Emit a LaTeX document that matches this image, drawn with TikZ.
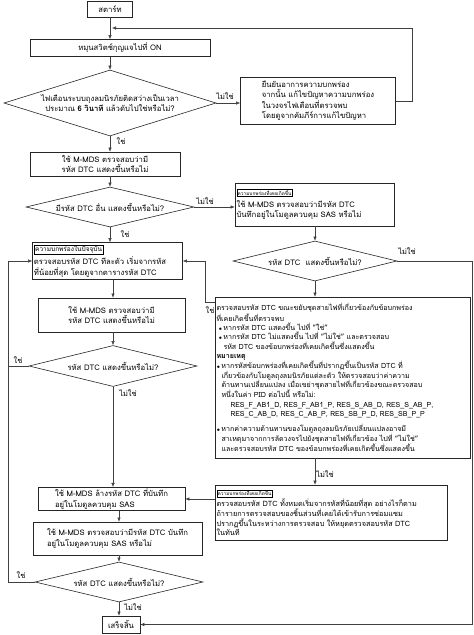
\documentclass[tikz,border=0pt]{standalone}
\usepackage{fontspec}
\setmainfont[Script=Thai]{Loma}
\usetikzlibrary{shapes.geometric,arrows.meta,shadows}
\newcommand{\hdr}[2]{{\fontsize{#1}{#1}\selectfont\setlength{\fboxsep}{0.8pt}\fbox{#2}}}
\newcommand{\bul}{\raisebox{0.15ex}{\fontsize{5}{5}\selectfont$\bullet$}\,}

\begin{document}
\begin{tikzpicture}[x=1pt,y=-1pt,
  box/.style={draw=black!85, fill=white, line width=0.6pt, inner sep=1.5pt,
    font=\fontsize{7.7}{10.5}\selectfont,
    drop shadow={shadow xshift=0.7pt, shadow yshift=-0.7pt, opacity=0.5, fill=black!60}},
  dia/.style={diamond, draw=black!85, line width=0.6pt, inner sep=0pt},
  txt/.style={font=\fontsize{7.7}{10.5}\selectfont, align=center, inner sep=0pt},
  lbl/.style={font=\fontsize{7.5}{8}\selectfont, inner sep=0pt},
  arr/.style={-{Latex[length=4pt,width=3.4pt]}, draw=black!75, line width=0.5pt},
  ln/.style={draw=black!75, line width=0.5pt}]
\useasboundingbox (0,0) rectangle (474,635);

% main column
\node[box, minimum width=45pt, minimum height=16pt] (start) at (110,9) {สตาร์ท};
\node[box, minimum width=180pt, minimum height=17pt] (key) at (120,48) {หมุนสวิตช์กุญแจไปที่ ON};
\node[dia, minimum width=212pt, minimum height=66pt,
  label={[txt]center:{ไฟเตือนระบบถุงลมนิรภัยติดสว่างเป็นเวลา\\ประมาณ \textbf{6 วินาที} แล้วดับไปใช่หรือไม่?}}] (d1) at (110,103) {};
\node[box, minimum width=155pt, minimum height=47pt, align=left] (fix) at (318,101)
  {ยืนยันอาการความบกพร่อง\\จากนั้น แก้ไขปัญหาความบกพร่อง\\ในวงจรไฟเตือนที่ตรวจพบ\\โดยดูจากคัมภีร์การแก้ไขปัญหา};
\node[box, minimum width=150pt, minimum height=24pt, align=center] (chk1) at (105,164)
  {ใช้ M-MDS ตรวจสอบว่ามี\\รหัส DTC แสดงขึ้นหรือไม่};
\node[dia, minimum width=168pt, minimum height=40pt,
  label={[txt]center:{มีรหัส DTC อื่น แสดงขึ้นหรือไม่?}}] (d2) at (110,207) {};
\node[box, text width=156pt, minimum height=43pt, align=left] (sas1) at (314.5,204.5)
  {\hdr{4.8}{ความบกพร่องที่เคยเกิดขึ้น}\\[1pt]ใช้ M-MDS ตรวจสอบว่ามีรหัส DTC\\บันทึกอยู่ในโมดูลควบคุม SAS หรือไม่};
\node[dia, minimum width=164pt, minimum height=40pt,
  label={[txt]center:{รหัส DTC\ \ แสดงขึ้นหรือไม่?}}] (d3) at (315,261) {};
\node[box, text width=147pt, minimum height=37pt, align=left] (cur) at (107.5,261)
  {\hdr{6.5}{ความบกพร่องในปัจจุบัน}\\[1pt]ตรวจสอบรหัส DTC ทีละตัว เริ่มจากรหัส\\ที่น้อยที่สุด โดยดูจากตารางรหัส DTC};
\node[box, minimum width=147pt, minimum height=34pt, align=center] (chk2) at (111.5,315)
  {ใช้ M-MDS ตรวจสอบว่ามี\\รหัส DTC แสดงขึ้นหรือไม่};
\node[dia, minimum width=168pt, minimum height=41pt,
  label={[txt]center:{รหัส DTC แสดงขึ้นหรือไม่?}}] (d4) at (113,366) {};
\node[box, text width=252pt, minimum height=161pt, align=left, font=\fontsize{7.1}{9.3}\selectfont] (wig) at (342.5,377.5)
  {ตรวจสอบรหัส DTC ขณะขยับชุดสายไฟที่เกี่ยวข้องกับข้อบกพร่อง\\
   ที่เคยเกิดขึ้นที่ตรวจพบ\\
   \hspace*{2pt}\bul หากรหัส DTC แสดงขึ้น ไปที่ "ใช่"\\
   \hspace*{2pt}\bul หากรหัส DTC ไม่แสดงขึ้น ไปที่ "ไม่ใช่" และตรวจสอบ\\
   \hspace*{7pt}รหัส DTC ของข้อบกพร่องที่เคยเกิดขึ้นซึ่งแสดงขึ้น\\
   \textbf{หมายเหตุ}\\
   \bul หากรหัสข้อบกพร่องที่เคยเกิดขึ้นที่ปรากฏขึ้นเป็นรหัส DTC ที่\\
   \hspace*{5pt}เกี่ยวข้องกับโมดูลถุงลมนิรภัยแต่ละตัว ให้ตรวจสอบว่าค่าความ\\
   \hspace*{5pt}ต้านทานเปลี่ยนแปลง เมื่อเขย่าชุดสายไฟที่เกี่ยวข้องขณะตรวจสอบ\\
   \hspace*{5pt}หนึ่งในค่า PID ต่อไปนี้ หรือไม่:\\
   \hspace*{14pt}RES\_F\_AB1\_D, RES\_F\_AB1\_P, RES\_S\_AB\_D, RES\_S\_AB\_P,\\
   \hspace*{14pt}RES\_C\_AB\_D, RES\_C\_AB\_P, RES\_SB\_P\_D, RES\_SB\_P\_P\\[6pt]
   \bul หากค่าความต้านทานของโมดูลถุงลมนิรภัยเปลี่ยนแปลงอาจมี\\
   \hspace*{5pt}สาเหตุมาจากการลัดวงจรไปยังชุดสายไฟที่เกี่ยวข้อง ไปที่ "ไม่ใช่"\\
   \hspace*{5pt}และตรวจสอบรหัส DTC ของข้อบกพร่องที่เคยเกิดขึ้นซึ่งแสดงขึ้น};
\node[box, minimum width=147pt, minimum height=22pt, align=left] (clr) at (111.5,499)
  {ใช้ M-MDS ล้างรหัส DTC ที่บันทึก\\อยู่ในโมดูลควบคุม SAS};
\node[box, text width=229pt, minimum height=55pt, align=left, font=\fontsize{7.3}{9.3}\selectfont] (past) at (331,512.5)
  {\hdr{4.8}{ความบกพร่องที่เคยเกิดขึ้น}\\[1pt]ตรวจสอบรหัส DTC ทั้งหมดเริ่มจากรหัสที่น้อยที่สุด อย่างไรก็ตาม\\
   ถ้ารายการตรวจสอบของชิ้นส่วนที่เคยได้เข้ารับการซ่อมแซม\\
   ปรากฏขึ้นในระหว่างการตรวจสอบ ให้หยุดตรวจสอบรหัส DTC\\ในทันที};
\node[box, minimum width=169pt, minimum height=33pt, align=left] (sas2) at (117.5,538.5)
  {ใช้ M-MDS ตรวจสอบว่ามีรหัส DTC บันทึก\\อยู่ในโมดูลควบคุม SAS หรือไม่};
\node[dia, minimum width=168pt, minimum height=40pt,
  label={[txt]center:{รหัส DTC แสดงขึ้นหรือไม่?}}] (d5) at (119,582) {};
\node[box, minimum width=38pt, minimum height=17pt] (fin) at (121,624.5) {เสร็จสิ้น};

\coordinate (back) at (112,28);
\coordinate (lp) at (8,582);

% connectors
\draw[arr] (start.south) -- (start.south |- key.north);
\draw[arr] (d1.north |- key.south) -- (d1.north);
\draw[arr] (d1.south) -- (d1.south |- chk1.north);
\draw[arr] (d1.east) -- (d1.east -| fix.west);
\draw[arr] (fix.east) -- ++(16,0) |- (back);
\draw[arr] (d2.north |- chk1.south) -- (d2.north);
\draw[arr] (d2.east) -- (d2.east -| sas1.west);
\draw[arr] (d2.south) -- (d2.south |- cur.north);
\draw[arr] (d3.north |- sas1.south) -- (d3.north);
\draw[arr] (d3.south) -- (d3.south |- wig.north);
\draw[arr] (d3.east) -- ++(75,0) |- (fin.east);
\draw[arr] ([yshift=-6pt]wig.north west) -- ++(-9,0) |- (cur.east);
\draw[arr] (d4.north |- cur.south) -- (d4.north |- chk2.north);
\draw[arr] (d4.north |- chk2.south) -- (d4.north);
\draw[arr] (d4.south) -- (d4.south |- clr.north);
\draw[ln] (d4.west) -- (d4.west -| lp);
\draw[arr] (d5.west) -- (lp) |- (cur.west);
\draw[arr] (d3.south |- wig.south) -- (d3.south |- past.north);
\draw[arr] (clr.east -| past.west) -- (clr.east);
\draw[arr] (d5.north |- clr.south) -- (d5.north |- sas2.north);
\draw[arr] (d5.north |- sas2.south) -- (d5.north);
\draw[arr] (d5.south) -- (d5.south |- fin.north);

% yes / no
\node[lbl] (n1) at (225,96) {ไม่ใช่};
\node[lbl] (y1) at (121,141) {ใช่};
\node[lbl] (n2) at (205,201) {ไม่ใช่};
\node[lbl] (y2) at (125,234) {ใช่};
\node[lbl] (n3) at (407,251) {ไม่ใช่};
\node[lbl] (y3) at (210,310) {ใช่};
\node[lbl] (y4) at (18,360) {ใช่};
\node[lbl] (n4) at (128,393) {ไม่ใช่};
\node[lbl] (n5) at (325,474) {ไม่ใช่};
\node[lbl] (y5) at (21,575) {ใช่};
\node[lbl] (n6) at (133,607) {ไม่ใช่};
\end{tikzpicture}
\end{document}
